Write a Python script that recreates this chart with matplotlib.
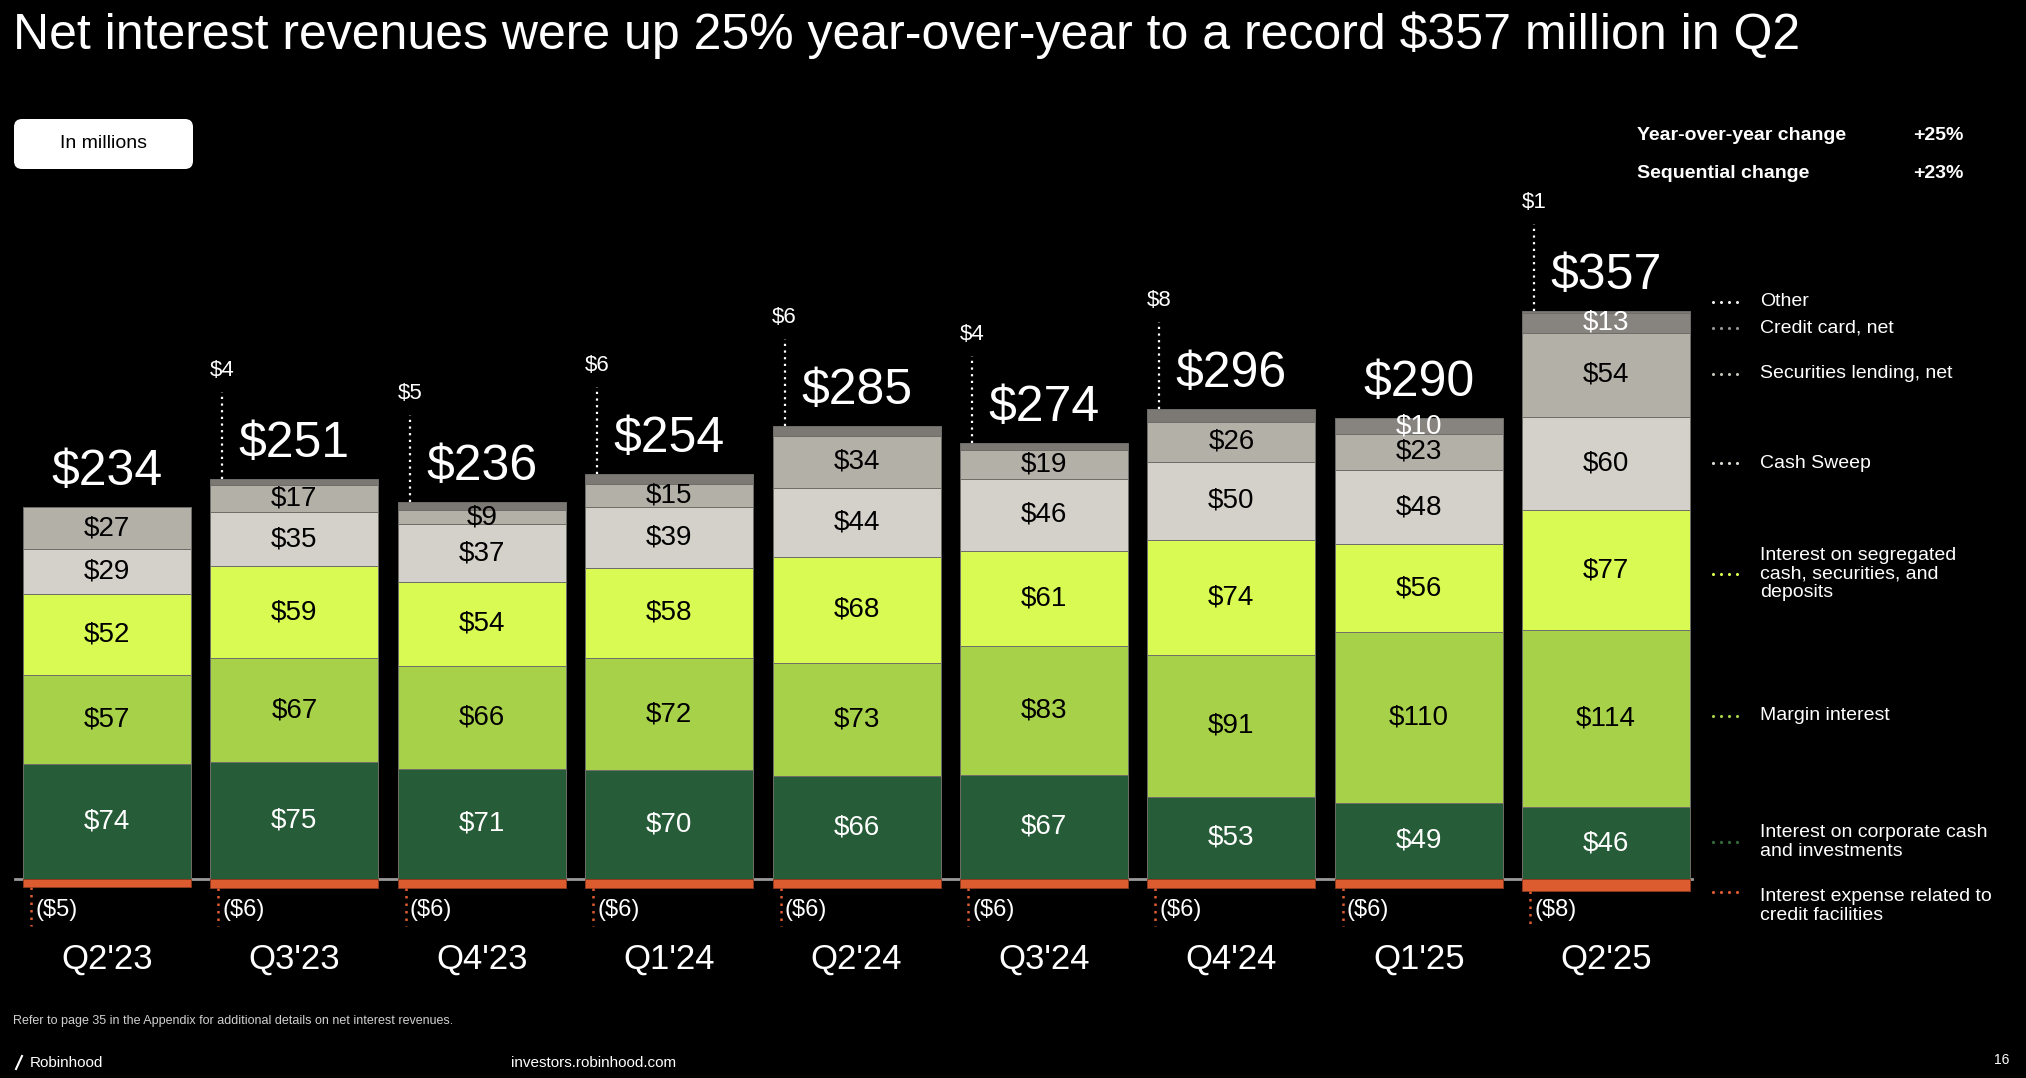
import matplotlib
matplotlib.use("Agg")
import matplotlib.pyplot as plt
from matplotlib.patches import FancyBboxPatch

plt.rcParams['font.family'] = ['Liberation Sans', 'DejaVu Sans']
plt.rcParams['text.parse_math'] = False

# data (in millions)
quarters = ["Q2'23", "Q3'23", "Q4'23", "Q1'24", "Q2'24", "Q3'24", "Q4'24", "Q1'25", "Q2'25"]
corporate = [74, 75, 71, 70, 66, 67, 53, 49, 46]
margin = [57, 67, 66, 72, 73, 83, 91, 110, 114]
segregated = [52, 59, 54, 58, 68, 61, 74, 56, 77]
sweep = [29, 35, 37, 39, 44, 46, 50, 48, 60]
sec_lending = [27, 17, 9, 15, 34, 19, 26, 23, 54]
credit_card = [0, 0, 0, 0, 0, 0, 0, 10, 13]
other = [0, 4, 5, 6, 6, 4, 8, 0, 1]
interest_exp = [-5, -6, -6, -6, -6, -6, -6, -6, -8]
totals = [234, 251, 236, 254, 285, 274, 296, 290, 357]

# colours
C_CORP = '#265c37'
C_MARGIN = '#a8d14a'
C_SEG = '#d8fa52'
C_SWEEP = '#d4d1ca'
C_SECL = '#b3b0a8'
C_CC = '#878480'
C_OTHER = '#7c7975'
C_EXP = '#dd5c2f'

W, H = 2026, 1078
fig = plt.figure(figsize=(W / 100, H / 100), dpi=100, facecolor='black')

# main axes fills the figure; scale chosen so bars land where the slide has them
step = 187.4
x0 = 107
ppu = 1.556
zero_px = 879
ax = fig.add_axes([0, 0, 1, 1])
ax.set_facecolor('black')
ax.set_xlim(-x0 / step, (W - x0) / step)
ax.set_ylim(-(H - zero_px) / ppu, zero_px / ppu)
ax.axis('off')

x = list(range(len(quarters)))
bw = 0.896

ax.plot([-0.49, 8.46], [0, 0], color='#9a9a9a', lw=2, zorder=1)

series = [
    (corporate, C_CORP, 'white'),
    (margin, C_MARGIN, 'black'),
    (segregated, C_SEG, 'black'),
    (sweep, C_SWEEP, 'black'),
    (sec_lending, C_SECL, 'black'),
    (credit_card, C_CC, 'white'),
    (other, C_OTHER, None),
]

bottoms = [0] * len(x)
for vals, col, tcol in series:
    ax.bar(x, vals, bw, bottom=bottoms, color=col, edgecolor='#6f6d69', linewidth=0.7, zorder=2)
    if tcol:
        for i, v in enumerate(vals):
            if v > 0:
                ax.text(i, bottoms[i] + v / 2, f"${v}", ha='center', va='center',
                        fontsize=20, color=tcol, zorder=4)
    bottoms = [b + v for b, v in zip(bottoms, vals)]

ax.bar(x, interest_exp, bw, color=C_EXP, edgecolor='#8a3a1e', linewidth=0.7, zorder=2)

off = 12 / step
for i in x:
    top = bottoms[i]
    ax.text(i, top + 22.5, f"${totals[i]}", ha='center', va='center', fontsize=36, color='white', zorder=4)
    if other[i] > 0:
        lx = i - bw / 2 + off
        ax.plot([lx, lx], [top, top + 56], color='white', ls=(0, (1, 2)), lw=1.6, zorder=3)
        ax.text(lx, top + 70, f"${other[i]}", ha='center', va='center', fontsize=16, color='white')
    # interest expense
    lx = i - bw / 2 + 8 / step
    ax.plot([lx, lx], [interest_exp[i], -30], color=C_EXP, ls=(0, (1, 2)), lw=1.8, zorder=3)
    ax.text(lx + 4 / step, -20, f"(${-interest_exp[i]})", ha='left', va='center', fontsize=17, color='white')
    ax.text(i, -(959 - zero_px) / ppu, quarters[i], ha='center', va='center', fontsize=25, color='white')

# overlay in pixel coordinates for slide furniture
ov = fig.add_axes([0, 0, 1, 1])
ov.set_xlim(0, W)
ov.set_ylim(H, 0)
ov.axis('off')
ov.patch.set_alpha(0)

ov.text(13, 35, "Net interest revenues were up 25% year-over-year to a record $357 million in Q2",
        fontsize=36, color='white', ha='left', va='center')

box = FancyBboxPatch((14, 119), 179, 50, boxstyle="round,pad=0,rounding_size=8",
                     facecolor='white', edgecolor='none')
ov.add_patch(box)
ov.text(103, 144, "In millions", fontsize=14, color='black', ha='center', va='center')

ov.text(1637, 136, "Year-over-year change", fontsize=14, fontweight='bold', color='white', va='center')
ov.text(1913, 136, "+25%", fontsize=14, fontweight='bold', color='white', va='center')
ov.text(1637, 174, "Sequential change", fontsize=14, fontweight='bold', color='white', va='center')
ov.text(1913, 174, "+23%", fontsize=14, fontweight='bold', color='white', va='center')

legend_items = [
    ("Other", '#e6e6e6', 302, 302),
    ("Credit card, net", '#9a9893', 328, 328),
    ("Securities lending, net", '#c4c1ba', 374, 374),
    ("Cash Sweep", '#dcd9d2', 463, 463),
    ("Interest on segregated\ncash, securities, and\ndeposits", C_SEG, 574, 574),
    ("Margin interest", C_MARGIN, 716, 716),
    ("Interest on corporate cash\nand investments", '#2f6e3f', 842, 842),
    ("Interest expense related to\ncredit facilities", C_EXP, 906, 892),
]
for label, col, ty, dy in legend_items:
    ov.scatter([1713, 1721, 1729, 1737], [dy] * 4, s=5, color=col, linewidths=0)
    ov.text(1760, ty, label, fontsize=14, color='white', va='center', linespacing=1.15)

ov.text(13, 1021, "Refer to page 35 in the Appendix for additional details on net interest revenues.",
        fontsize=9, color='#d0d0d0', va='center')
ov.plot([16, 22], [1069, 1056], color='white', lw=1.5)
ov.text(30, 1063, "Robinhood", fontsize=11, color='white', va='center')
ov.text(594, 1063, "investors.robinhood.com", fontsize=11, color='white', va='center', ha='center')
ov.text(2002, 1060, "16", fontsize=10, color='white', va='center', ha='center')

fig.savefig("out.png", dpi=100, facecolor='black')
